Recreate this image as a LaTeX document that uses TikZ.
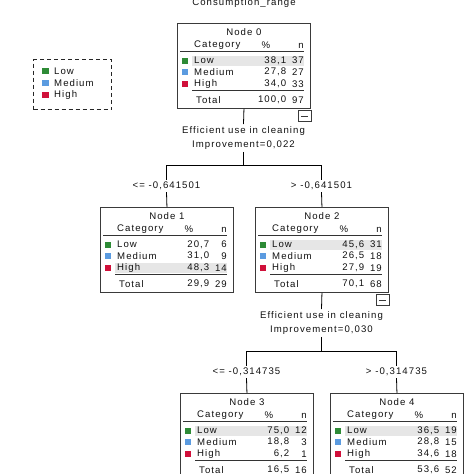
\documentclass[tikz,border=0pt]{standalone}
\usepackage{fontspec}
\setmainfont{Liberation Sans}[LetterSpace=11]
\usetikzlibrary{calc}
\definecolor{cLow}{HTML}{2E8B36}
\definecolor{cMed}{HTML}{5B9BE0}
\definecolor{cHigh}{HTML}{D0103A}
\definecolor{hl}{HTML}{E6E6E6}
\definecolor{boxc}{HTML}{3A3A3A}
\definecolor{txtc}{HTML}{111111}
\tikzset{
  txt/.style={font=\fontsize{9.6}{11}\selectfont, text=txtc, inner sep=0pt},
  lbl/.style={font=\fontsize{9.6}{14.5}\selectfont, text=txtc, inner sep=2pt, align=center},
  tbox/.style={draw=boxc, line width=0.9pt, minimum width=133pt, minimum height=85pt, inner sep=0pt, anchor=north west},
  conn/.style={draw=black, line width=0.8pt},
  rule/.style={draw=black!80, line width=0.9pt},
  minusbox/.style={draw=boxc, line width=0.7pt, fill=white},
}
\newcommand\catrow[6]{%
  \fill[#3] ($(#1.north west)+(5,#2-3)$) rectangle ++(6,6);
  \node[txt,anchor=west] at ($(#1.north west)+(17,#2)$) {#4};
  \node[txt,anchor=east] at ($(#1.north west)+(109.5,#2)$) {#5};
  \node[txt,anchor=east] at ($(#1.north west)+(127,#2)$) {#6};}
\newcommand\treebox[4]{% name, title, total pct, total n
  \node[txt] at ($(#1.north)+(0,9)$) {#2};
  \node[txt,anchor=west] at ($(#1.north west)+(17,22.5)$) {Category};
  \node[txt] at ($(#1.north west)+(89,22.5)$) {\%};
  \node[txt,anchor=east] at ($(#1.north west)+(127,22.5)$) {n};
  \draw[rule] ($(#1.north west)+(3,28)$) -- ($(#1.north west)+(127,28)$);
  \draw[rule] ($(#1.north west)+(15,67)$) -- ($(#1.north west)+(127,67)$);
  \node[txt,anchor=west] at ($(#1.north west)+(19,77)$) {Total};
  \node[txt,anchor=east] at ($(#1.north west)+(109.5,77)$) {#3};
  \node[txt,anchor=east] at ($(#1.north west)+(127,77)$) {#4};}
\newcommand\hlrow[2]{%
  \fill[hl] ($(#1.north west)+(15,#2-5)$) rectangle ($(#1.north west)+(127,#2+5)$);}
\newcommand\minus[1]{%
  \draw[minusbox] ($(#1.south east)+(-13,1.5)$) rectangle ($(#1.south east)+(0,12.5)$);
  \draw[boxc,line width=0.7pt] ($(#1.south east)+(-10,7)$) -- ($(#1.south east)+(-3,7)$);}
\begin{document}
\begin{tikzpicture}[x=1pt,y=-1pt]
\useasboundingbox (0,0) rectangle (474,474);
\clip (0,0) rectangle (474,474);
\fill[white] (0,0) rectangle (474,474);

% title
\node[txt,anchor=base] (title) at (244,5) {Consumption\_range};

% legend
\node[draw=black!85, dashed, dash pattern=on 4pt off 3pt, line width=1pt, minimum width=78pt, minimum height=50pt, anchor=north west, inner sep=0pt] (legend) at (33,59) {};
\fill[cLow] ($(legend.north west)+(9,9)$) rectangle ++(7,6);
\node[txt,anchor=west] (lgLow) at ($(legend.north west)+(21,12)$) {Low};
\fill[cMed] ($(legend.north west)+(9,21)$) rectangle ++(7,6);
\node[txt,anchor=west] (lgMed) at ($(legend.north west)+(21,24)$) {Medium};
\fill[cHigh] ($(legend.north west)+(9,33)$) rectangle ++(7,6);
\node[txt,anchor=west] (lgHigh) at ($(legend.north west)+(21,36)$) {High};

% boxes
\node[tbox] (n0) at (177,23) {};
\node[tbox] (n1) at (100,207) {};
\node[tbox] (n2) at (255,207) {};
\node[tbox] (n3) at (180,393) {};
\node[tbox] (n4) at (330,393) {};

% highlights
\hlrow{n0}{37.5}
\hlrow{n1}{61}
\hlrow{n2}{37.5}
\hlrow{n3}{37.5}
\hlrow{n4}{37.5}

% contents
\treebox{n0}{Node 0}{100,0}{97}
\catrow{n0}{37.5}{cLow}{Low}{38,1}{37}
\catrow{n0}{49}{cMed}{Medium}{27,8}{27}
\catrow{n0}{61}{cHigh}{High}{34,0}{33}

\treebox{n1}{Node 1}{29,9}{29}
\catrow{n1}{37.5}{cLow}{Low}{20,7}{6}
\catrow{n1}{49}{cMed}{Medium}{31,0}{9}
\catrow{n1}{61}{cHigh}{High}{48,3}{14}

\treebox{n2}{Node 2}{70,1}{68}
\catrow{n2}{37.5}{cLow}{Low}{45,6}{31}
\catrow{n2}{49}{cMed}{Medium}{26,5}{18}
\catrow{n2}{61}{cHigh}{High}{27,9}{19}

\treebox{n3}{Node 3}{16,5}{16}
\catrow{n3}{37.5}{cLow}{Low}{75,0}{12}
\catrow{n3}{49}{cMed}{Medium}{18,8}{3}
\catrow{n3}{61}{cHigh}{High}{6,2}{1}

\treebox{n4}{Node 4}{53,6}{52}
\catrow{n4}{37.5}{cLow}{Low}{36,5}{19}
\catrow{n4}{49}{cMed}{Medium}{28,8}{15}
\catrow{n4}{61}{cHigh}{High}{34,6}{18}

\minus{n0}
\minus{n2}

% split labels
\node[lbl,anchor=north] (s0) at (243.5,124) {Efficient use in cleaning\\Improvement=0,022};
\node[lbl,anchor=north] (s2) at (321.5,309) {Efficient use in cleaning\\Improvement=0,030};

\coordinate (j0) at (243.5,165);
\coordinate (h1) at (166.5,165);
\coordinate (h2) at (321.5,165);
\node[lbl] (l1) at (166.5,186) {<= -0,641501};
\node[lbl] (l2) at (321.5,186) {> -0,641501};

\coordinate (j2) at (321.5,351);
\coordinate (h3) at (246.5,351);
\coordinate (h4) at (396.5,351);
\node[lbl] (l3) at (246.5,372) {<= -0,314735};
\node[lbl] (l4) at (396.5,372) {> -0,314735};

% connectors
\draw[conn] (n0.south) -- (s0.north);
\draw[conn] (s0.south) -- (j0);
\draw[conn] (h1) -- (h2);
\draw[conn] (h1) -- (l1.north);
\draw[conn] (l1.south) -- (n1.north);
\draw[conn] (h2) -- (l2.north);
\draw[conn] (l2.south) -- (n2.north);

\draw[conn] (n2.south) -- (s2.north);
\draw[conn] (s2.south) -- (j2);
\draw[conn] (h3) -- (h4);
\draw[conn] (h3) -- (l3.north);
\draw[conn] (l3.south) -- (n3.north);
\draw[conn] (h4) -- (l4.north);
\draw[conn] (l4.south) -- (n4.north);
\end{tikzpicture}
\end{document}
